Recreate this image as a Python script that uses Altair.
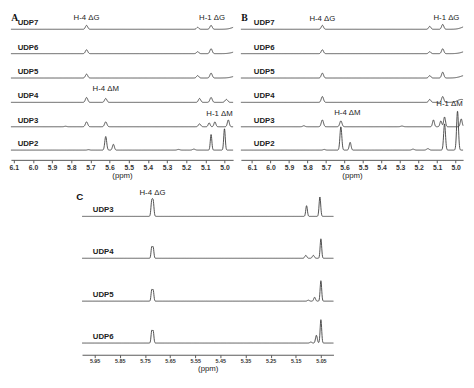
import numpy as np
import pandas as pd
import altair as alt

# ---------------- data ----------------
rows_ab = ["UDP7", "UDP6", "UDP5", "UDP4", "UDP3", "UDP2"]
rows_c = ["UDP3", "UDP4", "UDP5", "UDP6"]

# peaks: (ppm, height, half-width) ; heights in px-like units
peaks_a = {
    "UDP7": [(5.72, 4, 0.006), (5.14, 2, 0.006), (5.07, 4, 0.006), (4.92, 4, 0.03)],
    "UDP6": [(5.72, 4, 0.006), (5.14, 2, 0.006), (5.07, 5, 0.006), (4.92, 3, 0.03)],
    "UDP5": [(5.72, 4, 0.006), (5.14, 2.5, 0.006), (5.07, 5, 0.006), (4.92, 3, 0.03)],
    "UDP4": [(5.72, 5, 0.006), (5.62, 4, 0.006), (5.13, 4, 0.006), (5.07, 5, 0.006), (4.99, 3, 0.007)],
    "UDP3": [(5.83, 0.5, 0.006), (5.72, 5, 0.006), (5.62, 5, 0.006), (5.13, 3, 0.006),
             (5.08, 4, 0.005), (5.05, 5, 0.005), (4.98, 7, 0.005)],
    "UDP2": [(5.71, 0.5, 0.006), (5.62, 14, 0.005), (5.58, 6, 0.005), (5.24, 0.7, 0.007),
             (5.16, 1, 0.007), (5.07, 16, 0.004), (5.00, 22, 0.004)],
}
peaks_b = {
    "UDP7": [(5.72, 4, 0.006), (5.14, 3, 0.006), (5.07, 5, 0.006), (4.93, 4, 0.03)],
    "UDP6": [(5.72, 4, 0.006), (5.14, 2, 0.006), (5.07, 5, 0.006), (4.93, 3, 0.03)],
    "UDP5": [(5.72, 5, 0.006), (5.14, 2.5, 0.006), (5.07, 6, 0.006), (4.94, 3, 0.03)],
    "UDP4": [(5.72, 6, 0.006), (5.14, 3, 0.006), (5.07, 6, 0.006), (4.97, 3, 0.02)],
    "UDP3": [(5.82, 1, 0.006), (5.72, 7, 0.006), (5.62, 6, 0.006), (5.29, 0.7, 0.007),
             (5.12, 7, 0.005), (5.08, 6, 0.005), (5.06, 10, 0.005), (4.97, 8, 0.005)],
    "UDP2": [(5.71, 0.7, 0.006), (5.62, 24, 0.005), (5.57, 8, 0.005), (5.23, 1, 0.007),
             (5.15, 1.5, 0.007), (5.06, 27, 0.005), (4.99, 40, 0.005)],
}
peaks_c = {
    "UDP3": [(5.723, 15, 0.003), (5.717, 15, 0.003), (5.107, 11, 0.0032), (5.054, 20, 0.0032)],
    "UDP4": [(5.723, 11, 0.0027), (5.717, 11, 0.0027), (5.11, 3, 0.004), (5.08, 3, 0.004),
             (5.05, 20, 0.003)],
    "UDP5": [(5.723, 11, 0.0027), (5.717, 11, 0.0027), (5.10, 1, 0.004), (5.075, 4, 0.0035),
             (5.05, 21, 0.003)],
    "UDP6": [(5.723, 12, 0.0027), (5.717, 12, 0.0027), (5.09, 1, 0.004), (5.068, 8, 0.0035),
             (5.05, 24, 0.003)],
}

ticks_ab = [6.1, 6.0, 5.9, 5.8, 5.7, 5.6, 5.5, 5.4, 5.3, 5.2, 5.1, 5.0]
ticks_c = [5.95, 5.85, 5.75, 5.65, 5.55, 5.45, 5.35, 5.25, 5.15, 5.05]

ann_a_text = ["H-4 \u0394G", "H-1 \u0394G", "H-4 \u0394M", "H-1 \u0394M"]
ann_a_ppm = [5.72, 5.065, 5.62, 4.957]
ann_a_v = [146, 146, 73, 47]
ann_a_align = ["center", "center", "center", "right"]

ann_b_text = ["H-4 \u0394G", "H-1 \u0394G", "H-4 \u0394M", "H-1 \u0394M"]
ann_b_ppm = [5.72, 5.05, 5.585, 4.962]
ann_b_v = [145, 146, 48, 57]
ann_b_align = ["center", "center", "center", "right"]

ann_c_text = ["H-4 \u0394G"]
ann_c_ppm = [5.72]
ann_c_v = [166]
ann_c_align = ["center"]

LINE = "#3a3a3a"
SANS = "Liberation Sans"


def spectra(peaks, order, offsets, lo, hi, n):
    x = np.linspace(lo, hi, n)
    frames = []
    for name, off in zip(order, offsets):
        y = np.full_like(x, float(off))
        for p, h, w in peaks[name]:
            y += h * np.exp(-0.5 * ((x - p) / w) ** 2)
        frames.append(pd.DataFrame({"ppm": np.round(x, 5), "v": np.round(y, 3), "s": name}))
    return pd.concat(frames, ignore_index=True)


def panel(peaks, order, offsets, dom, width, height, ticks, fmt, label_x, ann,
          letter, letter_x, letter_font, letter_y, tick_font):
    lo, hi = dom
    df = spectra(peaks, order, offsets, lo, hi, 1100)
    xs = alt.Scale(domain=[lo, hi], reverse=True, nice=False, zero=False)
    ys = alt.Scale(domain=[0, height], nice=False, zero=False)
    xaxis = alt.Axis(values=ticks, format=fmt, labelFontSize=tick_font, labelFontWeight="bold",
                     labelColor="#333", tickSize=3, labelPadding=1, title="(ppm)",
                     titleFontSize=8, titleFontWeight="normal", titlePadding=1,
                     titleColor="#222", domainColor="#555", tickColor="#555",
                     labelFont=SANS, titleFont=SANS, grid=False, labelFlush=False,
                     labelOverlap=False, labelSeparation=0)

    def X():
        return alt.X("ppm:Q", scale=xs, axis=xaxis)

    def Y():
        return alt.Y("v:Q", scale=ys, axis=None)

    line = alt.Chart(df).mark_line(color=LINE, strokeWidth=0.9).encode(
        x=X(), y=Y(), detail="s:N")
    lab = pd.DataFrame({"t": order, "ppm": [label_x] * len(order),
                        "v": [o + 6 for o in offsets]})
    labels = alt.Chart(lab).mark_text(align="left", baseline="middle", font=SANS,
                                      fontSize=8, fontWeight="bold", color="#222").encode(
        x=X(), y=Y(), text="t:N")
    texts, ppms, vs, aligns = ann
    an = pd.DataFrame({"t": texts, "ppm": ppms, "v": vs, "al": aligns})
    layers = [line, labels]
    for al in ["center", "right"]:
        sub = an[an["al"] == al]
        if len(sub):
            layers.append(alt.Chart(sub).mark_text(align=al, baseline="middle", font=SANS,
                                                   fontSize=8, color="#222").encode(
                x=X(), y=Y(), text="t:N"))
    let = pd.DataFrame({"t": [letter], "ppm": [letter_x], "v": [letter_y]})
    layers.append(alt.Chart(let).mark_text(align="left", baseline="middle", font=letter_font,
                                           fontSize=10, fontWeight="bold", color="#111").encode(
        x=X(), y=Y(), text="t:N"))
    return alt.layer(*layers).properties(width=width, height=height)


off_ab = [134, 109, 84, 59, 34, 10]
off_c = [142, 99, 55, 12]
dom_a = (4.955, 6.115)
dom_b = (4.96, 6.16)
dom_c = (5.0, 6.0)

pa = panel(peaks_a, rows_ab, off_ab, dom_a, 228, 150, ticks_ab, ".1f", 6.08,
           (ann_a_text, ann_a_ppm, ann_a_v, ann_a_align),
           "A", 6.113, "Liberation Serif", 145, 7)
pb = panel(peaks_b, rows_ab, off_ab, dom_b, 228, 150, ticks_ab, ".1f", 6.09,
           (ann_b_text, ann_b_ppm, ann_b_v, ann_b_align),
           "B", 6.158, "Liberation Serif", 145, 7)
pc = panel(peaks_c, rows_c, off_c, dom_c, 258, 170, ticks_c, ".2f", 5.957,
           (ann_c_text, ann_c_ppm, ann_c_v, ann_c_align),
           "C", 6.023, SANS, 162, 5.5)

spacer = alt.Chart(pd.DataFrame({"a": [0]})).mark_text(text=" ").encode(
    x=alt.X("a:Q", axis=None), y=alt.Y("a:Q", axis=None)
).properties(width=63, height=170)

chart = alt.vconcat(
    alt.hconcat(pa, pb, spacing=2),
    alt.hconcat(spacer, pc, spacing=2),
    spacing=8,
).configure(padding=0).configure_view(stroke="transparent")

chart.save("out.html", embed_options={"renderer": "svg", "actions": False})
